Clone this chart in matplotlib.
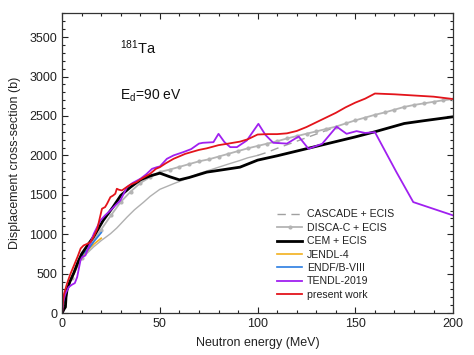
import matplotlib
matplotlib.use("Agg")
import matplotlib.pyplot as plt
from matplotlib.ticker import MultipleLocator

plt.rcParams["font.family"] = ["Liberation Sans", "DejaVu Sans"]
plt.rcParams["mathtext.fontset"] = "custom"
plt.rcParams["mathtext.rm"] = "Liberation Sans"

# present work
e_present = [0, 0.5, 1, 2.5, 4, 6, 8, 9.5, 11, 13, 14.5, 16, 18, 20.4, 22, 23, 24.7, 26, 27.2,
             28, 29, 30.6, 33, 35, 38, 41, 45, 48, 50, 53, 57, 63, 70, 74, 80, 85, 91, 95, 100,
             105, 110, 115, 120, 125, 130, 135, 140, 145, 150, 155, 160, 165, 170, 180, 190, 200]
xs_present = [0, 160, 245, 372, 480, 600, 720, 820, 858, 880, 900, 960, 1070, 1324, 1345, 1387,
              1471, 1490, 1514, 1577, 1565, 1556, 1598, 1630, 1661, 1710, 1767, 1830, 1851, 1900,
              1957, 2020, 2070, 2090, 2130, 2150, 2175, 2205, 2265, 2270, 2270, 2280, 2310, 2360,
              2420, 2480, 2540, 2610, 2670, 2720, 2785, 2780, 2775, 2760, 2745, 2715]

# CEM + ECIS
e_cem = [0, 1, 1.7, 2, 2.5, 4, 6, 8, 10, 13, 16, 21, 26, 30, 35, 40, 45, 50, 55, 60, 65, 74,
         80, 91, 100, 110, 120, 130, 140, 150, 160, 170, 175, 185, 200]
xs_cem = [0, 50, 76, 200, 290, 400, 510, 640, 750, 860, 964, 1175, 1344, 1492, 1598, 1690, 1740,
          1775, 1730, 1690, 1720, 1788, 1810, 1851, 1940, 1995, 2055, 2115, 2175, 2235, 2300,
          2370, 2405, 2440, 2490]

# TENDL-2019
e_tendl = [0, 0.5, 1.7, 3.4, 5, 6.5, 7.7, 9.4, 10.2, 11.9, 13.6, 16.2, 19.6, 22, 24.7, 27, 29.8,
           33.2, 36, 40, 43, 46, 48.5, 50, 53.6, 57, 62, 66, 70, 72, 77.4, 80, 83, 86, 89.4, 94.5,
           100.4, 104, 108, 115, 121, 126, 133, 140.4, 145.5, 150.6, 155, 160, 171, 179.6, 200]
xs_tendl = [0, 140, 245, 330, 360, 380, 456, 668, 710, 731, 837, 1006, 1175, 1240, 1302, 1360,
            1429, 1598, 1650, 1703, 1760, 1830, 1851, 1860, 1957, 2000, 2042, 2080, 2150, 2160,
            2168, 2274, 2170, 2105, 2105, 2190, 2401, 2260, 2160, 2150, 2240, 2084, 2147, 2365,
            2274, 2308, 2285, 2295, 1788, 1408, 1239]

# JENDL-4
e_jendl = [0, 1, 2, 4, 6, 8, 10, 12, 14, 16, 18, 20]
xs_jendl = [0, 150, 260, 390, 500, 610, 700, 760, 820, 870, 910, 950]

# ENDF/B-VIII
e_endf = [0, 1, 2, 4, 6, 8, 9, 10, 11, 12, 13, 14, 16, 18, 20]
xs_endf = [0, 160, 270, 400, 510, 640, 700, 720, 760, 780, 800, 830, 900, 960, 1020]

# DISCA-C + ECIS
e_disca = [5, 10, 15, 20, 25, 30, 35, 40, 45, 50, 55, 60, 65, 70, 75, 80, 85, 90, 95, 100,
           105, 110, 115, 120, 125, 130, 135, 140, 145, 150, 155, 160, 165, 170, 175, 180,
           185, 190, 195, 200]
xs_disca = [450, 700, 880, 1060, 1240, 1410, 1540, 1650, 1725, 1790, 1820, 1855, 1890, 1925,
            1950, 1985, 2020, 2055, 2090, 2120, 2150, 2180, 2215, 2245, 2275, 2305, 2335, 2365,
            2405, 2445, 2480, 2515, 2545, 2580, 2615, 2640, 2660, 2680, 2700, 2715]

# CASCADE + ECIS (solid-looking up to 100 MeV, dashed above)
e_cascade = [12, 16, 20, 24.7, 28, 33.2, 37, 41.7, 45, 50, 57, 60, 65, 70, 75, 80, 85, 91, 95,
             100, 105, 110, 115, 120, 125, 130, 135, 140]
xs_cascade = [740, 837, 920, 1006, 1080, 1217, 1310, 1407, 1480, 1570, 1641, 1670, 1720, 1770,
              1810, 1850, 1890, 1936, 1970, 2000, 2040, 2090, 2135, 2180, 2225, 2270, 2315, 2360]
split = e_cascade.index(100)

fig = plt.figure(figsize=(4.74, 3.55), dpi=100)
ax = fig.add_axes([0.131, 0.118, 0.825, 0.844])

ax.plot(e_cascade[:split + 1], xs_cascade[:split + 1], color="#b0b0b0", lw=1.0)
ax.plot(e_cascade[split:], xs_cascade[split:], color="#a0a0a0", lw=1.0,
        dashes=(6, 4), label="CASCADE + ECIS")
ax.plot(e_disca, xs_disca, color="#b4b4b4", lw=1.3, marker="o", ms=2.0,
        label="DISCA-C + ECIS")
ax.plot(e_jendl, xs_jendl, color="#f2b01e", lw=1.2, label="JENDL-4")
ax.plot(e_endf, xs_endf, color="#2a7de1", lw=1.2, label="ENDF/B-VIII")
ax.plot(e_cem, xs_cem, color="black", lw=2.0, label="CEM + ECIS")
ax.plot(e_tendl, xs_tendl, color="#a020f0", lw=1.3, label="TENDL-2019")
ax.plot(e_present, xs_present, color="#e3141b", lw=1.3, label="present work")

ax.set_xlim(0, 200)
ax.set_ylim(0, 3800)
ax.xaxis.set_major_locator(MultipleLocator(50))
ax.xaxis.set_minor_locator(MultipleLocator(10))
ax.yaxis.set_major_locator(MultipleLocator(500))
ax.yaxis.set_minor_locator(MultipleLocator(100))
ax.tick_params(which="both", direction="in", top=True, right=True, labelsize=9,
               colors="#222222", width=0.8)
ax.tick_params(which="major", length=4)
ax.tick_params(which="minor", length=2)
for s in ax.spines.values():
    s.set_color("#333333")
    s.set_linewidth(0.9)

ax.set_xlabel("Neutron energy (MeV)", fontsize=9, color="#222222", labelpad=5)
ax.set_ylabel("Displacement cross-section (b)", fontsize=9, color="#222222", labelpad=6)

ax.text(29.5, 3370, r"$\mathregular{^{181}}$Ta", fontsize=10.5, va="center", color="#111111")
ax.text(29.5, 2760, r"E$\mathregular{_d}$=90 eV", fontsize=10, va="center", color="#111111")

handles, labels = ax.get_legend_handles_labels()
order = ["CASCADE + ECIS", "DISCA-C + ECIS", "CEM + ECIS", "JENDL-4", "ENDF/B-VIII",
         "TENDL-2019", "present work"]
hmap = dict(zip(labels, handles))
leg = ax.legend([hmap[k] for k in order], order, loc="upper left",
                bbox_to_anchor=(0.54, 0.36), frameon=False, fontsize=7.6,
                handlelength=2.3, handletextpad=0.5, labelspacing=0.32, borderaxespad=0)
for t in leg.get_texts():
    t.set_color("#222222")

fig.savefig("out.png", dpi=100)
